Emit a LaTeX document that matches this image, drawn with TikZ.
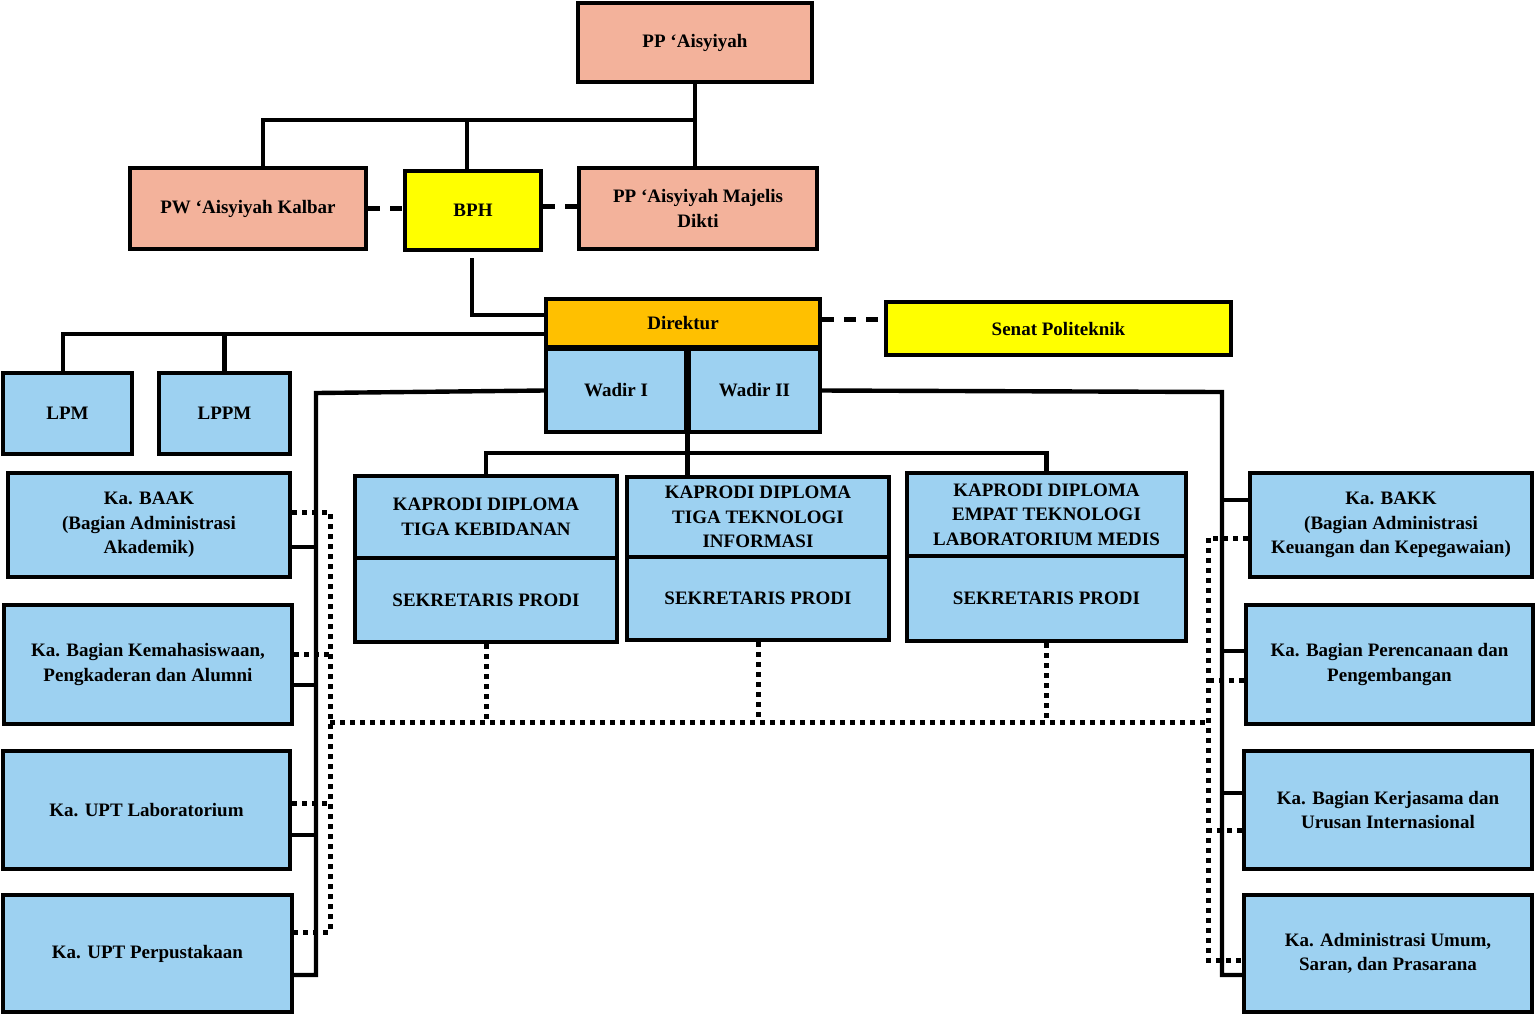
\documentclass[tikz,border=0pt]{standalone}
\usepackage{fontspec}
\setmainfont{Liberation Serif}
\usetikzlibrary{calc}
\definecolor{salmon}{HTML}{F3B29B}
\definecolor{lblue}{HTML}{9DD1F1}
\definecolor{yel}{HTML}{FFFF00}
\definecolor{orng}{HTML}{FFC000}
\begin{document}
\begin{tikzpicture}[x=0.5pt,y=-0.5pt,
  box/.style={draw=black, line width=2.2pt, align=center, inner sep=0pt,
    font=\fontsize{9.5}{12.25}\selectfont\bfseries},
  sz/.style 2 args={minimum width=#1*0.5pt, minimum height=#2*0.5pt},
  conn/.style={line width=2.2pt},
  dashc/.style={line width=2.5pt, dash pattern=on 6pt off 5pt},
  dotc/.style={line width=2.5pt, dash pattern=on 2.5pt off 2.5pt}]
\useasboundingbox (0,0) rectangle (1536,1014);

% top level
\node[box, fill=salmon, sz={234}{79}] (ppa) at (695,42.5) {PP ‘Aisyiyah};
\node[box, fill=salmon, sz={236}{81}] (pw) at (248,208.5) {PW ‘Aisyiyah Kalbar};
\node[box, fill=yel, sz={136}{79}] (bph) at (473,210.5) {BPH};
\node[box, fill=salmon, sz={238}{81}] (ppd) at (698,208.5) {PP ‘Aisyiyah Majelis\\Dikti};

% direktur block
\node[box, fill=orng, sz={274}{48}] (dir) at (683,323) {Direktur};
\node[box, fill=yel, sz={345}{53}] (senat) at (1058.5,328.5) {Senat Politeknik};
\node[box, fill=lblue, sz={140}{83}] (w1) at (616,390.5) {Wadir I};
\node[box, fill=lblue, sz={131}{83}] (w2) at (754.5,390.5) {Wadir II};

% LPM, LPPM
\node[box, fill=lblue, sz={129}{81}] (lpm) at (67.5,413.5) {LPM};
\node[box, fill=lblue, sz={131}{81}] (lppm) at (224.5,413.5) {LPPM};

% left column
\node[box, fill=lblue, sz={282}{104}] (baak) at (149,525) {Ka. BAAK\\(Bagian Administrasi\\Akademik)};
\node[box, fill=lblue, sz={288}{119}] (kema) at (148,664.5) {Ka. Bagian Kemahasiswaan,\\Pengkaderan dan Alumni};
\node[box, fill=lblue, sz={287}{118}] (lab) at (146.5,810) {Ka. UPT Laboratorium};
\node[box, fill=lblue, sz={289}{117}] (perp) at (147.5,953.5) {Ka. UPT Perpustakaan};

% right column
\node[box, fill=lblue, sz={282}{104}] (bakk) at (1391,525) {Ka. BAKK\\(Bagian Administrasi\\Keuangan dan Kepegawaian)};
\node[box, fill=lblue, sz={287}{119}] (renc) at (1389.5,664.5) {Ka. Bagian Perencanaan dan\\Pengembangan};
\node[box, fill=lblue, sz={288}{118}] (kerj) at (1388,810) {Ka. Bagian Kerjasama dan\\Urusan Internasional};
\node[box, fill=lblue, sz={288}{117}] (adm) at (1388,953.5) {Ka. Administrasi Umum,\\Saran, dan Prasarana};

% kaprodi
\node[box, fill=lblue, sz={262}{82}] (k1a) at (486,517) {KAPRODI DIPLOMA\\TIGA KEBIDANAN};
\node[box, fill=lblue, sz={262}{84}] (k1b) at (486,600) {SEKRETARIS PRODI};
\node[box, fill=lblue, sz={262}{80}] (k2a) at (758,517) {KAPRODI DIPLOMA\\TIGA TEKNOLOGI\\INFORMASI};
\node[box, fill=lblue, sz={262}{83}] (k2b) at (758,598.5) {SEKRETARIS PRODI};
\node[box, fill=lblue, sz={279}{83}] (k3a) at (1046.5,514.5) {KAPRODI DIPLOMA\\EMPAT TEKNOLOGI\\LABORATORIUM MEDIS};
\node[box, fill=lblue, sz={279}{85}] (k3b) at (1046.5,598.5) {SEKRETARIS PRODI};

% junction coordinates
\coordinate (jtop) at (695,120);
\coordinate (lbus) at (316,393);
\coordinate (rbus) at (1222,392);
\coordinate (ldot) at (330,512);
\coordinate (rdot) at (1208,538);
\coordinate (hbus) at (0,722);

% solid connectors
\draw[conn] (ppa.south) -- (ppa.south |- ppd.north);
\draw[conn] (jtop) -| ($(pw.north)+(15,0)$);
\draw[conn] (467,120) -- ($(bph.north)+(-6,0)$);
\draw[conn] ($(bph.south)+(-1,6)$) |- ($(dir.west)+(0,-8)$);
\draw[conn] ($(dir.west)+(0,11)$) -| ($(lpm.north)+(-4.5,0)$);
\draw[conn] (224.5,334) -- (lppm.north);

\draw[conn] (w1.west) -- (lbus) -- (316,975) -- ($(perp.east)+(0,21.5)$);
\draw[conn] ($(baak.east)+(0,22)$) -- (316,547);
\draw[conn] ($(kema.east)+(0,20.5)$) -- (316,685);
\draw[conn] ($(lab.east)+(0,25)$) -- (316,835);

\draw[conn] (w2.east) -- (rbus) -- (1222,975) -- ($(adm.west)+(0,21.5)$);
\draw[conn] ($(bakk.west)+(0,-25)$) -- (1222,500);
\draw[conn] ($(renc.west)+(0,-13.5)$) -- (1222,651);
\draw[conn] ($(kerj.west)+(0,-17)$) -- (1222,793);

\coordinate (wj) at ($(w1.south east)!0.5!(w2.south west)$);
\draw[conn] (wj) -- (wj |- k2a.north);
\draw[conn] (k1a.north) -- ++(0,-21) -| (k3a.north);

% dashed connectors
\draw[dashc] (pw.east) -- (pw.east -| bph.west);
\draw[dashc] ($(bph.east)+(0,-4)$) -- ($(ppd.west)+(0,-2)$);
\draw[dashc] ($(dir.east)+(0,-4)$) -- ($(senat.west)+(0,-9.5)$);

% dotted connectors
\draw[dotc] ($(baak.east)+(0,-13)$) -- (ldot) -- (330,932) -- ($(perp.east)+(0,-21.5)$);
\draw[dotc] ($(kema.east)+(0,-10.5)$) -- (330,654);
\draw[dotc] ($(lab.east)+(0,-7)$) -- (330,803);
\draw[dotc] (330,722) -- (1208,722);
\draw[dotc] (k1b.south) -- (k1b.south |- hbus);
\draw[dotc] (k2b.south) -- (k2b.south |- hbus);
\draw[dotc] (k3b.south) -- (k3b.south |- hbus);
\draw[dotc] ($(bakk.west)+(0,13)$) -- (rdot) -- (1208,960) -- ($(adm.west)+(0,6.5)$);
\draw[dotc] ($(renc.west)+(0,15.5)$) -- (1208,680);
\draw[dotc] ($(kerj.west)+(0,20)$) -- (1208,830);
\end{tikzpicture}
\end{document}
